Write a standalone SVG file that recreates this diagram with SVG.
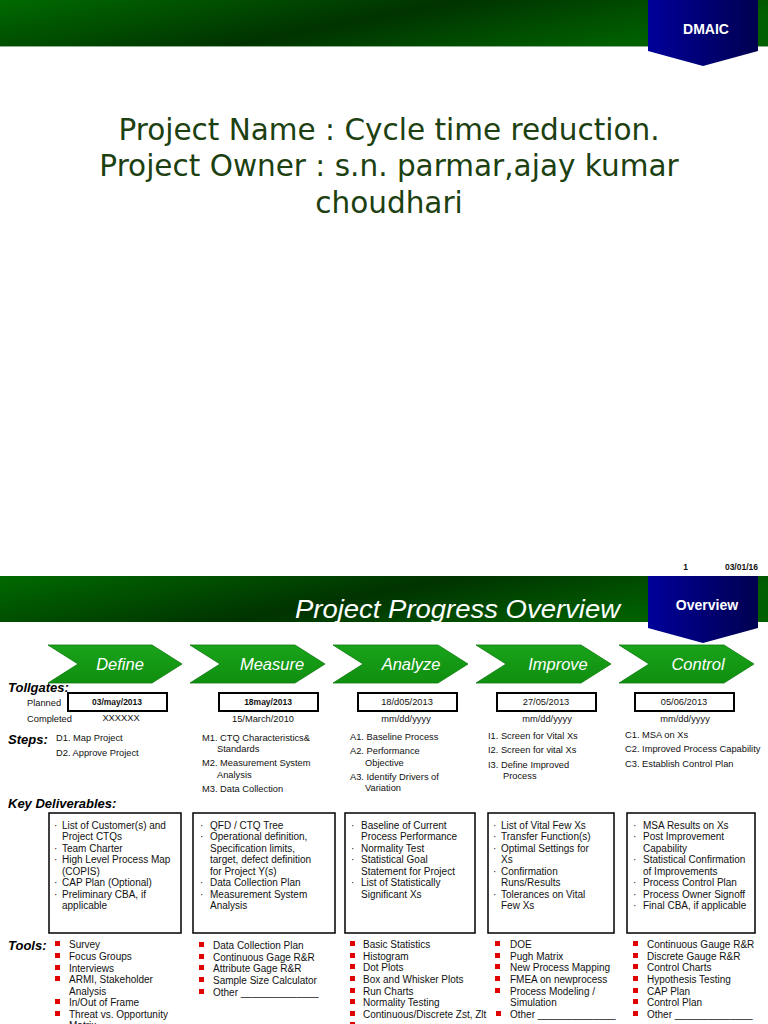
<svg xmlns="http://www.w3.org/2000/svg" width="768" height="1024" viewBox="0 0 768 1024">
<defs>
<linearGradient id="band" x1="0" y1="0" x2="1" y2="0.3">
<stop offset="0" stop-color="#006a00"/>
<stop offset="0.55" stop-color="#003300"/>
<stop offset="1" stop-color="#006000"/>
</linearGradient>
<linearGradient id="blue" x1="0" y1="0" x2="1" y2="0">
<stop offset="0" stop-color="#00009a"/>
<stop offset="1" stop-color="#000050"/>
</linearGradient>
<linearGradient id="chev" x1="0" y1="0" x2="0" y2="1">
<stop offset="0" stop-color="#1aa31a"/>
<stop offset="1" stop-color="#0f8f0f"/>
</linearGradient>
<style>
.title{font-family:"DejaVu Sans",sans-serif;font-size:29.5px;fill:#1c4010;text-anchor:middle}
.w{font-family:"Liberation Sans",Arial,sans-serif;fill:#fff}
.chevt{font-family:"Liberation Sans",Arial,sans-serif;font-size:16.5px;font-style:italic;fill:#fff;text-anchor:middle}
.hd{font-family:"Liberation Sans",Arial,sans-serif;font-size:13px;font-weight:bold;font-style:italic;fill:#000}
.s{font-family:"Liberation Sans",Arial,sans-serif;font-size:9.3px;fill:#111}
.d{font-family:"Liberation Sans",Arial,sans-serif;font-size:10px;fill:#111}
.c{text-anchor:middle}
.b{font-weight:bold;font-size:8.5px}
.box{fill:#fff;stroke:#000;stroke-width:2}
.dbox{fill:#fff;stroke:#000;stroke-width:1.5}
.chevp{fill:url(#chev);stroke:#0c7a0c;stroke-width:0.8}
.rb{fill:#e00000}
</style>
</defs>
<rect width="768" height="1024" fill="#fff"/>

<!-- slide 1 -->
<g id="banner1">
<rect x="0" y="0" width="768" height="46" fill="url(#band)"/>
<line x1="0" y1="46.5" x2="768" y2="46.5" stroke="#8fb08f" stroke-width="1"/>
</g>
<g id="dmaic">
<polygon points="648,0 758,0 758,51 703,66 648,51" fill="url(#blue)"/>
<text x="706" y="34" class="w" font-size="14" font-weight="bold" text-anchor="middle">DMAIC</text>
</g>
<g id="title">
<text x="389" y="140" class="title">Project Name : Cycle time reduction.</text>
<text x="389" y="176" class="title">Project Owner : s.n. parmar,ajay kumar</text>
<text x="389" y="213" class="title">choudhari</text>
</g>

<!-- slide 2 -->
<g id="footer">
<text x="688" y="570" class="s b" text-anchor="end">1</text>
<text x="758" y="570" class="s b" text-anchor="end">03/01/16</text>
</g>
<g id="banner2">
<rect x="0" y="576" width="768" height="46" fill="url(#band)"/>
<text x="295" y="618" class="w" font-size="25" font-style="italic" textLength="325" lengthAdjust="spacingAndGlyphs">Project Progress Overview</text>
</g>
<g id="overview">
<polygon points="648,576 758,576 758,628 703,643 648,628" fill="url(#blue)"/>
<text x="707" y="610" class="w" font-size="14" font-weight="bold" text-anchor="middle">Overview</text>
</g>

<g id="phase-define">
<polygon class="chevp" points="48,645 152,645 182,664 152,683 48,683 78,664"/>
<text x="120" y="670" class="chevt">Define</text>
</g>
<g id="phase-measure">
<polygon class="chevp" points="190,645 295,645 325,664 295,683 190,683 220,664"/>
<text x="272" y="670" class="chevt">Measure</text>
</g>
<g id="phase-analyze">
<polygon class="chevp" points="333,645 438,645 468,664 438,683 333,683 363,664"/>
<text x="411" y="670" class="chevt">Analyze</text>
</g>
<g id="phase-improve">
<polygon class="chevp" points="476,645 581,645 611,664 581,683 476,683 506,664"/>
<text x="558" y="670" class="chevt">Improve</text>
</g>
<g id="phase-control">
<polygon class="chevp" points="619,645 724,645 754,664 724,683 619,683 649,664"/>
<text x="698" y="670" class="chevt">Control</text>
</g>

<g id="tollgates">
<text x="8" y="692" class="hd">Tollgates:</text>
<text x="27" y="706" class="s">Planned</text>
<text x="27" y="722" class="s">Completed</text>
<rect x="68" y="693" width="99" height="18" class="box"/>
<text x="117" y="705" class="s b c">03/may/2013</text>
<rect x="219" y="693" width="99" height="18" class="box"/>
<text x="268" y="705" class="s b c">18may/2013</text>
<rect x="358" y="693" width="99" height="18" class="box"/>
<text x="407" y="705" class="s c">18/d05/2013</text>
<rect x="497" y="693" width="99" height="18" class="box"/>
<text x="546" y="705" class="s c">27/05/2013</text>
<rect x="635" y="693" width="99" height="18" class="box"/>
<text x="684" y="705" class="s c">05/06/2013</text>
<text x="121" y="721" class="s c">XXXXXX</text>
<text x="263" y="722" class="s c">15/March/2010</text>
<text x="406" y="722" class="s c">mm/dd/yyyy</text>
<text x="547" y="722" class="s c">mm/dd/yyyy</text>
<text x="685" y="722" class="s c">mm/dd/yyyy</text>
</g>

<g id="steps">
<text x="8" y="744" class="hd">Steps:</text>
<text x="56" y="741" class="s">D1. Map Project</text>
<text x="56" y="756" class="s">D2. Approve Project</text>
<text x="202" y="741" class="s">M1. CTQ Characteristics&amp;</text>
<text x="217" y="752" class="s">Standards</text>
<text x="202" y="766" class="s">M2. Measurement System</text>
<text x="217" y="778" class="s">Analysis</text>
<text x="202" y="792" class="s">M3. Data Collection</text>
<text x="350" y="740" class="s">A1. Baseline Process</text>
<text x="350" y="754" class="s">A2. Performance</text>
<text x="365" y="766" class="s">Objective</text>
<text x="350" y="780" class="s">A3. Identify Drivers of</text>
<text x="365" y="791" class="s">Variation</text>
<text x="488" y="739" class="s">I1. Screen for Vital Xs</text>
<text x="488" y="753" class="s">I2. Screen for vital Xs</text>
<text x="488" y="768" class="s">I3. Define Improved</text>
<text x="503" y="779" class="s">Process</text>
<text x="625" y="738" class="s">C1. MSA on Xs</text>
<text x="625" y="752" class="s">C2. Improved Process Capability</text>
<text x="625" y="767" class="s">C3. Establish Control Plan</text>
</g>

<g id="deliverables">
<text x="8" y="808" class="hd">Key Deliverables:</text>
<rect x="49" y="813" width="132" height="120" class="dbox"/>
<g class="d">
<text x="54" y="829">·</text><text x="62" y="829">List of Customer(s) and</text>
<text x="62" y="840">Project CTQs</text>
<text x="54" y="852">·</text><text x="62" y="852">Team Charter</text>
<text x="54" y="863">·</text><text x="62" y="863">High Level Process Map</text>
<text x="62" y="875">(COPIS)</text>
<text x="54" y="886">·</text><text x="62" y="886">CAP Plan (Optional)</text>
<text x="54" y="898">·</text><text x="62" y="898">Preliminary CBA, if</text>
<text x="62" y="909">applicable</text>
</g>
<rect x="193" y="813" width="142" height="120" class="dbox"/>
<g class="d">
<text x="200" y="829">·</text><text x="210" y="829">QFD / CTQ Tree</text>
<text x="200" y="840">·</text><text x="210" y="840">Operational definition,</text>
<text x="210" y="852">Specification limits,</text>
<text x="210" y="863">target, defect definition</text>
<text x="210" y="875">for Project Y(s)</text>
<text x="200" y="886">·</text><text x="210" y="886">Data Collection Plan</text>
<text x="200" y="898">·</text><text x="210" y="898">Measurement System</text>
<text x="210" y="909">Analysis</text>
</g>
<rect x="345" y="813" width="130" height="120" class="dbox"/>
<g class="d">
<text x="351" y="829">·</text><text x="361" y="829">Baseline of Current</text>
<text x="361" y="840">Process Performance</text>
<text x="351" y="852">·</text><text x="361" y="852">Normality Test</text>
<text x="351" y="863">·</text><text x="361" y="863">Statistical Goal</text>
<text x="361" y="875">Statement for Project</text>
<text x="351" y="886">·</text><text x="361" y="886">List of Statistically</text>
<text x="361" y="898">Significant Xs</text>
</g>
<rect x="488" y="813" width="126" height="120" class="dbox"/>
<g class="d">
<text x="493" y="829">·</text><text x="501" y="829">List of Vital Few Xs</text>
<text x="493" y="840">·</text><text x="501" y="840">Transfer Function(s)</text>
<text x="493" y="852">·</text><text x="501" y="852">Optimal Settings for</text>
<text x="501" y="863">Xs</text>
<text x="493" y="875">·</text><text x="501" y="875">Confirmation</text>
<text x="501" y="886">Runs/Results</text>
<text x="493" y="898">·</text><text x="501" y="898">Tolerances on Vital</text>
<text x="501" y="909">Few Xs</text>
</g>
<rect x="627" y="813" width="128" height="120" class="dbox"/>
<g class="d">
<text x="633" y="829">·</text><text x="643" y="829">MSA Results on Xs</text>
<text x="633" y="840">·</text><text x="643" y="840">Post Improvement</text>
<text x="643" y="852">Capability</text>
<text x="633" y="863">·</text><text x="643" y="863">Statistical Confirmation</text>
<text x="643" y="875">of Improvements</text>
<text x="633" y="886">·</text><text x="643" y="886">Process Control Plan</text>
<text x="633" y="898">·</text><text x="643" y="898">Process Owner Signoff</text>
<text x="633" y="909">·</text><text x="643" y="909">Final CBA, if applicable</text>
</g>
</g>

<g id="tools">
<text x="8" y="950" class="hd">Tools:</text>
<g class="rb">
<rect x="55" y="941" width="5" height="5"/><rect x="55" y="953" width="5" height="5"/><rect x="55" y="965" width="5" height="5"/><rect x="55" y="976" width="5" height="5"/><rect x="55" y="999" width="5" height="5"/><rect x="55" y="1011" width="5" height="5"/>
<rect x="199" y="942" width="5" height="5"/><rect x="199" y="954" width="5" height="5"/><rect x="199" y="965" width="5" height="5"/><rect x="199" y="977" width="5" height="5"/><rect x="199" y="989" width="5" height="5"/>
<rect x="350" y="941" width="5" height="5"/><rect x="350" y="953" width="5" height="5"/><rect x="350" y="964" width="5" height="5"/><rect x="350" y="976" width="5" height="5"/><rect x="350" y="988" width="5" height="5"/><rect x="350" y="999" width="5" height="5"/><rect x="350" y="1011" width="5" height="5"/><rect x="350" y="1022" width="5" height="5"/>
<rect x="495" y="941" width="5" height="5"/><rect x="495" y="953" width="5" height="5"/><rect x="495" y="964" width="5" height="5"/><rect x="495" y="976" width="5" height="5"/><rect x="495" y="988" width="5" height="5"/><rect x="496" y="1011" width="5" height="5"/>
<rect x="633" y="941" width="5" height="5"/><rect x="633" y="953" width="5" height="5"/><rect x="633" y="964" width="5" height="5"/><rect x="633" y="976" width="5" height="5"/><rect x="633" y="988" width="5" height="5"/><rect x="633" y="999" width="5" height="5"/><rect x="633" y="1011" width="5" height="5"/>
</g>
<g class="d">
<text x="69" y="948">Survey</text>
<text x="69" y="960">Focus Groups</text>
<text x="69" y="972">Interviews</text>
<text x="69" y="983">ARMI, Stakeholder</text>
<text x="69" y="995">Analysis</text>
<text x="69" y="1006">In/Out of Frame</text>
<text x="69" y="1018">Threat vs. Opportunity</text>
<text x="69" y="1029">Matrix</text>
<text x="213" y="949">Data Collection Plan</text>
<text x="213" y="961">Continuous Gage R&amp;R</text>
<text x="213" y="972">Attribute Gage R&amp;R</text>
<text x="213" y="984">Sample Size Calculator</text>
<text x="213" y="996">Other ______________</text>
<text x="363" y="948">Basic Statistics</text>
<text x="363" y="960">Histogram</text>
<text x="363" y="971">Dot Plots</text>
<text x="363" y="983">Box and Whisker Plots</text>
<text x="363" y="995">Run Charts</text>
<text x="363" y="1006">Normality Testing</text>
<text x="363" y="1018">Continuous/Discrete Zst, Zlt</text>
<text x="510" y="948">DOE</text>
<text x="510" y="960">Pugh Matrix</text>
<text x="510" y="971">New Process Mapping</text>
<text x="510" y="983">FMEA on newprocess</text>
<text x="510" y="995">Process Modeling /</text>
<text x="510" y="1006">Simulation</text>
<text x="510" y="1018">Other ______________</text>
<text x="647" y="948">Continuous Gauge R&amp;R</text>
<text x="647" y="960">Discrete Gauge R&amp;R</text>
<text x="647" y="971">Control Charts</text>
<text x="647" y="983">Hypothesis Testing</text>
<text x="647" y="995">CAP Plan</text>
<text x="647" y="1006">Control Plan</text>
<text x="647" y="1018">Other ______________</text>
</g>
</g>
</svg>
